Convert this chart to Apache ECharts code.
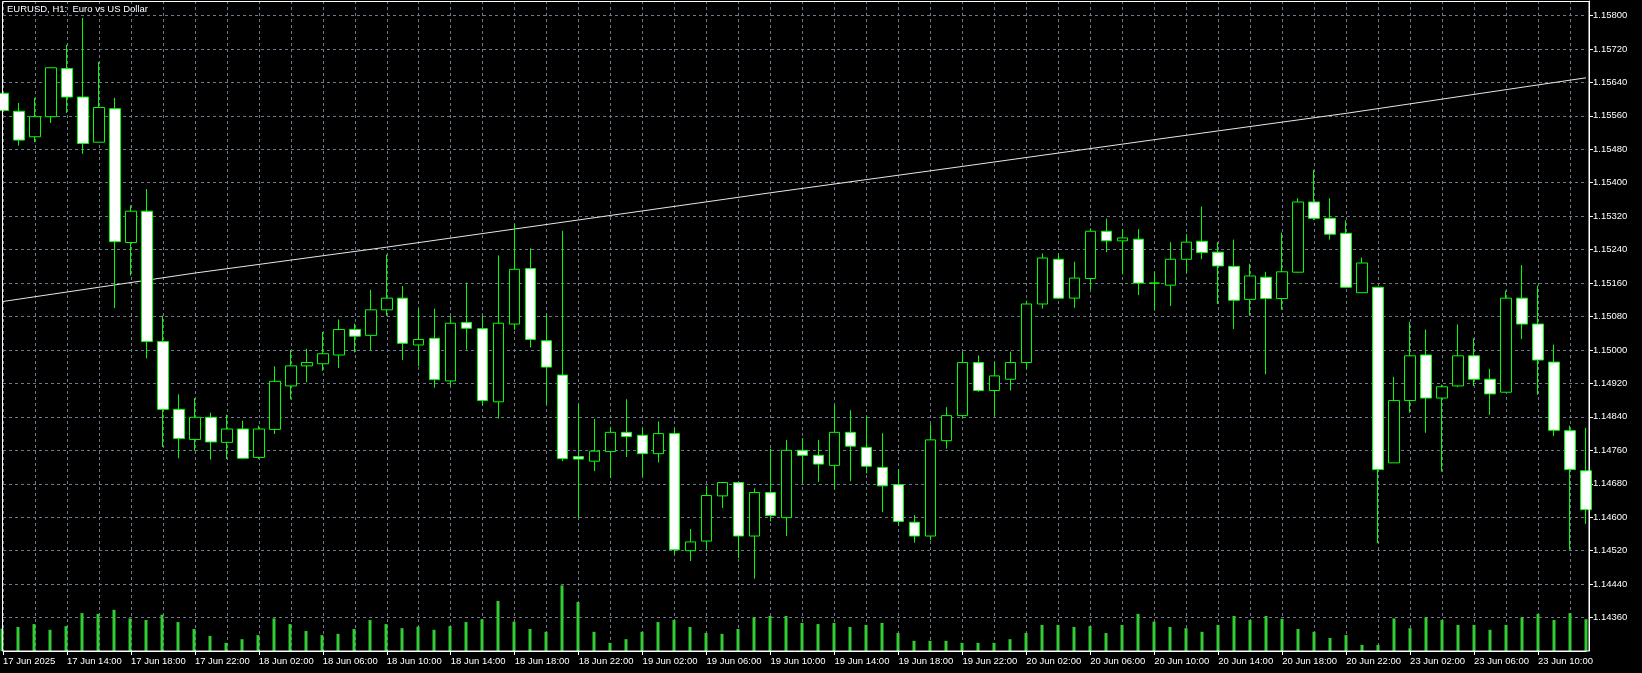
<!DOCTYPE html>
<html><head><meta charset="utf-8">
<script src="https://cdn.jsdelivr.net/npm/echarts@6/dist/echarts.min.js"></script>
<style>html,body{margin:0;padding:0;background:#000;}#c{width:1642px;height:673px;}</style>
</head><body><div id="c"></div>
<script>
const title = 'EURUSD, H1:  Euro vs US Dollar';
const timeLabels = ['17 Jun 2025','17 Jun 14:00','17 Jun 18:00','17 Jun 22:00','18 Jun 02:00','18 Jun 06:00','18 Jun 10:00','18 Jun 14:00','18 Jun 18:00','18 Jun 22:00','19 Jun 02:00','19 Jun 06:00','19 Jun 10:00','19 Jun 14:00','19 Jun 18:00','19 Jun 22:00','20 Jun 02:00','20 Jun 06:00','20 Jun 10:00','20 Jun 14:00','20 Jun 18:00','20 Jun 22:00','23 Jun 02:00','23 Jun 06:00','23 Jun 10:00'];
const opens = [1.15614,1.15571,1.15510,1.15558,1.15673,1.15605,1.15497,1.15577,1.15257,1.15332,1.15020,1.14858,1.14786,1.14839,1.14779,1.14811,1.14743,1.14810,1.14914,1.14962,1.14967,1.14988,1.15049,1.15035,1.15096,1.15124,1.15012,1.15028,1.14926,1.15066,1.15051,1.14876,1.15062,1.15195,1.15022,1.14940,1.14745,1.14734,1.14757,1.14803,1.14796,1.14752,1.14800,1.14520,1.14543,1.14651,1.14683,1.14555,1.14659,1.14599,1.14760,1.14748,1.14724,1.14803,1.14767,1.14719,1.14678,1.14588,1.14555,1.14783,1.14843,1.14970,1.14903,1.14930,1.14970,1.15110,1.15217,1.15124,1.15171,1.15284,1.15261,1.15265,1.15160,1.15155,1.15217,1.15260,1.15234,1.15200,1.15121,1.15174,1.15123,1.15186,1.15354,1.15315,1.15279,1.15137,1.15150,1.14730,1.14879,1.14988,1.14885,1.14914,1.14986,1.14930,1.14899,1.15124,1.15062,1.14971,1.14807,1.14711];
const highs = [1.15622,1.15591,1.15603,1.15676,1.15730,1.15794,1.15689,1.15603,1.15346,1.15385,1.15082,1.14894,1.14885,1.14850,1.14845,1.14831,1.14819,1.14961,1.15000,1.15003,1.15043,1.15073,1.15063,1.15144,1.15228,1.15153,1.15099,1.15099,1.15081,1.15161,1.15081,1.15226,1.15301,1.15243,1.15086,1.15285,1.14871,1.14835,1.14816,1.14882,1.14814,1.14829,1.14814,1.14572,1.14675,1.14683,1.14685,1.14669,1.14764,1.14785,1.14789,1.14785,1.14868,1.14856,1.14841,1.14801,1.14715,1.14605,1.14822,1.14863,1.14996,1.14987,1.14970,1.14996,1.15118,1.15231,1.15231,1.15211,1.15291,1.15314,1.15289,1.15289,1.15187,1.15258,1.15277,1.15343,1.15258,1.15264,1.15206,1.15187,1.15281,1.15363,1.15431,1.15363,1.15310,1.15221,1.15150,1.14936,1.15067,1.15049,1.14917,1.15061,1.15028,1.14955,1.15142,1.15203,1.15154,1.15013,1.14819,1.14814];
const lows = [1.15566,1.15489,1.15497,1.15543,1.15567,1.15469,1.15497,1.15100,1.15178,1.14980,1.14768,1.14741,1.14759,1.14738,1.14739,1.14739,1.14739,1.14799,1.14882,1.14923,1.14950,1.14957,1.14994,1.15000,1.15082,1.14976,1.14961,1.14910,1.14913,1.15001,1.14867,1.14836,1.15048,1.15006,1.14869,1.14734,1.14599,1.14710,1.14694,1.14744,1.14697,1.14731,1.14511,1.14495,1.14523,1.14622,1.14502,1.14453,1.14590,1.14555,1.14682,1.14684,1.14667,1.14686,1.14705,1.14612,1.14580,1.14539,1.14545,1.14764,1.14836,1.14900,1.14843,1.14903,1.14955,1.15099,1.15122,1.15101,1.15145,1.15234,1.15181,1.15131,1.15094,1.15105,1.15184,1.15217,1.15110,1.15050,1.15082,1.14942,1.15096,1.15185,1.15311,1.15264,1.15148,1.15137,1.14538,1.14730,1.14850,1.14802,1.14709,1.14911,1.14914,1.14845,1.14899,1.15026,1.14893,1.14794,1.14522,1.14584];
const closes = [1.15573,1.15502,1.15558,1.15675,1.15605,1.15494,1.15580,1.15259,1.15332,1.15020,1.14858,1.14788,1.14839,1.14780,1.14811,1.14741,1.14811,1.14925,1.14962,1.14970,1.14991,1.15049,1.15033,1.15096,1.15124,1.15016,1.15025,1.14929,1.15064,1.15052,1.14879,1.15064,1.15193,1.15025,1.14959,1.14740,1.14739,1.14758,1.14803,1.14793,1.14752,1.14800,1.14522,1.14541,1.14652,1.14683,1.14555,1.14659,1.14604,1.14760,1.14748,1.14727,1.14803,1.14770,1.14722,1.14675,1.14590,1.14555,1.14785,1.14843,1.14970,1.14903,1.14938,1.14970,1.15110,1.15220,1.15124,1.15172,1.15284,1.15261,1.15268,1.15160,1.15160,1.15217,1.15258,1.15233,1.15201,1.15119,1.15177,1.15123,1.15187,1.15354,1.15315,1.15277,1.15150,1.15208,1.14714,1.14879,1.14986,1.14885,1.14912,1.14986,1.14930,1.14895,1.15124,1.15062,1.14976,1.14808,1.14714,1.14618];
const volumes = [2750,2950,3300,2600,3050,4650,4550,5050,4000,3800,4450,3550,2700,1850,1000,1450,1950,4000,3300,2450,1950,2100,2700,3800,3300,2800,3000,2600,3050,3550,3900,6150,3600,2700,2350,8050,6000,2350,1000,1450,2350,3550,3800,2950,2200,2100,2700,4150,4300,4300,3450,3300,3450,2950,3200,3450,2200,1250,1250,1250,1000,1000,1000,1450,2200,3200,3200,2950,3050,2200,3200,4550,3600,2950,2800,2350,3200,4300,3800,4300,3950,2700,2350,1600,1950,750,750,4000,2800,4150,3800,3200,3200,2600,3200,4150,4550,3800,4650,3900];
// moving average read at every 12th bar
const maIndex = [0,12,24,36,48,60,72,84,99];
const maValues = [1.15116,1.15184,1.15246,1.15311,1.15376,1.15439,1.15503,1.15566,1.15651];

const N = opens.length;
const cats = opens.map((_, i) => String(i));
const candle = opens.map((o, i) => [o, closes[i], lows[i], highs[i]]);
const ma = new Array(N).fill(null);
maIndex.forEach((k, j) => { ma[k] = maValues[j]; });

const font = 'Liberation Sans';
const chart = echarts.init(document.getElementById('c'));
chart.setOption({
  backgroundColor: '#000',
  animation: false,
  graphic: [
    { type: 'rect', shape: { x: 2.5, y: 1.5, width: 1586.5, height: 649.5 }, style: { fill: 'none', stroke: '#fff', lineWidth: 1 }, z: 100 },
    { type: 'text', left: 7, top: 4, style: { text: title, fill: '#fff', font: '9.5px "Liberation Sans"' }, z: 101 }
  ],
  grid: [
    { left: 2, right: 56, top: 1, bottom: 22 },
    { left: 2, right: 56, top: 1, bottom: 22 }
  ],
  xAxis: [
    { type: 'category', data: cats, boundaryGap: false, gridIndex: 0,
      axisLine: { lineStyle: { color: '#fff' } },
      axisTick: { interval: 3, length: 4, lineStyle: { color: '#fff' } },
      axisLabel: { interval: 3, color: '#fff', fontFamily: font, fontSize: 9.5, align: 'left', margin: 5,
        formatter: (v, i) => timeLabels[i / 4] || '' },
      splitLine: { show: true, interval: 1, lineStyle: { color: '#6c7b8b', type: [3, 3] } } },
    { type: 'category', data: cats, boundaryGap: false, gridIndex: 1, show: false }
  ],
  yAxis: [
    { type: 'value', position: 'right', offset: 3, gridIndex: 0, min: 1.1428, max: 1.158347, interval: 0.0008,
      axisLine: { show: true, lineStyle: { color: '#fff' } },
      axisTick: { show: true, length: 4, lineStyle: { color: '#fff' } },
      axisLabel: { color: '#fff', fontFamily: font, fontSize: 9.5, margin: 4, showMinLabel: false, showMaxLabel: false,
        formatter: v => v.toFixed(5) },
      splitLine: { show: true, lineStyle: { color: '#6c7b8b', type: [3, 3] } } },
    { type: 'value', gridIndex: 1, min: 0, max: 79750, show: false, splitLine: { show: false } }
  ],
  series: [
    { type: 'bar', xAxisIndex: 1, yAxisIndex: 1, data: volumes, barWidth: 3, itemStyle: { color: '#32cd32' }, z: 1 },
    { type: 'line', xAxisIndex: 0, yAxisIndex: 0, data: ma, connectNulls: true, symbol: 'none',
      lineStyle: { color: '#e6e6e6', width: 1 }, z: 2 },
    { type: 'candlestick', xAxisIndex: 0, yAxisIndex: 0, data: candle, barWidth: 11,
      itemStyle: { color: '#000', color0: '#fff', borderColor: '#00ff00', borderColor0: '#00ff00', borderColorDoji: '#00ff00', borderWidth: 1 }, z: 3 }
  ]
});
</script></body></html>
